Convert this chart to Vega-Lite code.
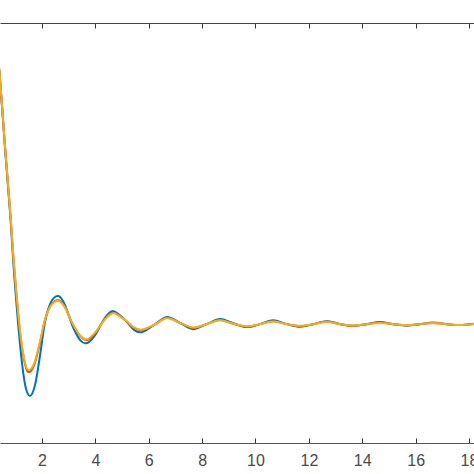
{
  "$schema": "https://vega.github.io/schema/vega-lite/v6.json",
  "width": 474,
  "height": 420,
  "autosize": {"type": "none"},
  "padding": {"top": 23, "bottom": 31, "left": 0, "right": 0},
  "background": "white",
  "config": {"view": {"stroke": null}},
  "data": {"values": [
    {"s":"A","x":0.3,"y":0.948},{"s":"A","x":0.43,"y":0.864},{"s":"A","x":0.62,"y":0.698},{"s":"A","x":0.81,"y":0.543},{"s":"A","x":0.96,"y":0.400},{"s":"A","x":1.18,"y":0.233},{"s":"A","x":1.37,"y":0.138},{"s":"A","x":1.55,"y":0.112},{"s":"A","x":1.74,"y":0.138},{"s":"A","x":1.93,"y":0.210},{"s":"A","x":2.12,"y":0.290},{"s":"A","x":2.34,"y":0.336},{"s":"A","x":2.62,"y":0.350},{"s":"A","x":2.86,"y":0.329},{"s":"A","x":3.13,"y":0.281},{"s":"A","x":3.43,"y":0.245},{"s":"A","x":3.69,"y":0.238},{"s":"A","x":3.99,"y":0.257},{"s":"A","x":4.36,"y":0.298},{"s":"A","x":4.68,"y":0.314},{"s":"A","x":5.11,"y":0.293},{"s":"A","x":5.45,"y":0.269},{"s":"A","x":5.75,"y":0.264},{"s":"A","x":6.2,"y":0.281},{"s":"A","x":6.68,"y":0.300},{"s":"A","x":7.17,"y":0.286},{"s":"A","x":7.66,"y":0.271},{"s":"A","x":8.17,"y":0.283},{"s":"A","x":8.67,"y":0.295},{"s":"A","x":9.17,"y":0.285},{"s":"A","x":9.68,"y":0.276},{"s":"A","x":10.17,"y":0.283},{"s":"A","x":10.66,"y":0.292},{"s":"A","x":11.17,"y":0.283},{"s":"A","x":11.67,"y":0.277},{"s":"A","x":12.17,"y":0.283},{"s":"A","x":12.68,"y":0.290},{"s":"A","x":13.17,"y":0.283},{"s":"A","x":13.65,"y":0.279},{"s":"A","x":14.16,"y":0.283},{"s":"A","x":14.66,"y":0.288},{"s":"A","x":15.17,"y":0.283},{"s":"A","x":15.67,"y":0.280},{"s":"A","x":16.16,"y":0.283},{"s":"A","x":16.65,"y":0.287},{"s":"A","x":17.16,"y":0.283},{"s":"A","x":17.66,"y":0.281},{"s":"A","x":18.3,"y":0.285},
    {"s":"B","x":0.3,"y":0.948},{"s":"B","x":0.43,"y":0.864},{"s":"B","x":0.62,"y":0.702},{"s":"B","x":0.81,"y":0.550},{"s":"B","x":0.96,"y":0.417},{"s":"B","x":1.18,"y":0.262},{"s":"B","x":1.37,"y":0.186},{"s":"B","x":1.52,"y":0.169},{"s":"B","x":1.72,"y":0.188},{"s":"B","x":1.93,"y":0.240},{"s":"B","x":2.12,"y":0.295},{"s":"B","x":2.34,"y":0.329},{"s":"B","x":2.62,"y":0.340},{"s":"B","x":2.86,"y":0.324},{"s":"B","x":3.13,"y":0.286},{"s":"B","x":3.43,"y":0.255},{"s":"B","x":3.69,"y":0.245},{"s":"B","x":3.99,"y":0.262},{"s":"B","x":4.36,"y":0.295},{"s":"B","x":4.68,"y":0.310},{"s":"B","x":5.11,"y":0.293},{"s":"B","x":5.45,"y":0.274},{"s":"B","x":5.75,"y":0.269},{"s":"B","x":6.2,"y":0.281},{"s":"B","x":6.68,"y":0.298},{"s":"B","x":7.17,"y":0.286},{"s":"B","x":7.66,"y":0.274},{"s":"B","x":8.17,"y":0.283},{"s":"B","x":8.67,"y":0.293},{"s":"B","x":9.17,"y":0.284},{"s":"B","x":9.68,"y":0.277},{"s":"B","x":10.17,"y":0.283},{"s":"B","x":10.66,"y":0.290},{"s":"B","x":11.17,"y":0.283},{"s":"B","x":11.67,"y":0.278},{"s":"B","x":12.17,"y":0.283},{"s":"B","x":12.68,"y":0.289},{"s":"B","x":13.17,"y":0.283},{"s":"B","x":13.65,"y":0.279},{"s":"B","x":14.16,"y":0.283},{"s":"B","x":14.66,"y":0.287},{"s":"B","x":15.17,"y":0.283},{"s":"B","x":15.67,"y":0.280},{"s":"B","x":16.16,"y":0.283},{"s":"B","x":16.65,"y":0.286},{"s":"B","x":17.16,"y":0.283},{"s":"B","x":17.66,"y":0.281},{"s":"B","x":18.3,"y":0.284},
    {"s":"C","x":0.3,"y":0.950},{"s":"C","x":0.43,"y":0.866},{"s":"C","x":0.62,"y":0.703},{"s":"C","x":0.81,"y":0.552},{"s":"C","x":0.96,"y":0.420},{"s":"C","x":1.18,"y":0.266},{"s":"C","x":1.37,"y":0.190},{"s":"C","x":1.52,"y":0.174},{"s":"C","x":1.72,"y":0.192},{"s":"C","x":1.93,"y":0.243},{"s":"C","x":2.12,"y":0.295},{"s":"C","x":2.34,"y":0.328},{"s":"C","x":2.62,"y":0.338},{"s":"C","x":2.86,"y":0.323},{"s":"C","x":3.13,"y":0.286},{"s":"C","x":3.43,"y":0.256},{"s":"C","x":3.69,"y":0.247},{"s":"C","x":3.99,"y":0.263},{"s":"C","x":4.36,"y":0.294},{"s":"C","x":4.68,"y":0.309},{"s":"C","x":5.11,"y":0.293},{"s":"C","x":5.45,"y":0.275},{"s":"C","x":5.75,"y":0.270},{"s":"C","x":6.2,"y":0.281},{"s":"C","x":6.68,"y":0.297},{"s":"C","x":7.17,"y":0.286},{"s":"C","x":7.66,"y":0.275},{"s":"C","x":8.17,"y":0.283},{"s":"C","x":8.67,"y":0.292},{"s":"C","x":9.17,"y":0.284},{"s":"C","x":9.68,"y":0.278},{"s":"C","x":10.17,"y":0.283},{"s":"C","x":10.66,"y":0.289},{"s":"C","x":11.17,"y":0.283},{"s":"C","x":11.67,"y":0.279},{"s":"C","x":12.17,"y":0.283},{"s":"C","x":12.68,"y":0.288},{"s":"C","x":13.17,"y":0.283},{"s":"C","x":13.65,"y":0.280},{"s":"C","x":14.16,"y":0.283},{"s":"C","x":14.66,"y":0.286},{"s":"C","x":15.17,"y":0.283},{"s":"C","x":15.67,"y":0.281},{"s":"C","x":16.16,"y":0.283},{"s":"C","x":16.65,"y":0.286},{"s":"C","x":17.16,"y":0.283},{"s":"C","x":17.66,"y":0.281},{"s":"C","x":18.3,"y":0.284}
  ]},
  "layer": [
    {
      "mark": {"type": "line", "interpolate": "cardinal", "strokeWidth": 2, "clip": true},
      "encoding": {
        "x": {"field": "x", "type": "quantitative",
              "scale": {"domain": [0.427, 18.187], "nice": false, "zero": false},
              "axis": {"orient": "bottom", "values": [2,4,6,8,10,12,14,16,18], "tickSize": -5, "tickColor": "#333333", "tickWidth": 1, "domainColor": "#555555", "domainWidth": 1.2, "labelFont": "Liberation Sans", "labelFontSize": 16, "labelColor": "#4a4a4a", "labelPadding": 14, "grid": false, "title": null}},
        "y": {"field": "y", "type": "quantitative", "scale": {"domain": [0, 1], "nice": false, "zero": false}, "axis": null},
        "color": {"field": "s", "type": "nominal", "scale": {"domain": ["A","B","C"], "range": ["#0072BD","#D95319","#EDB120"]}, "legend": null},
        "order": {"field": "x"}
      }
    },
    {
      "mark": {"type": "rule", "opacity": 0},
      "encoding": {
        "x": {"datum": 1, "type": "quantitative",
              "axis": {"orient": "top", "values": [2,4,6,8,10,12,14,16,18], "labels": false, "tickSize": -5, "tickColor": "#333333", "domainColor": "#444444", "domainWidth": 1.2, "grid": false, "title": null}}
      }
    }
  ],
  "resolve": {"axis": {"x": "independent"}}
}
